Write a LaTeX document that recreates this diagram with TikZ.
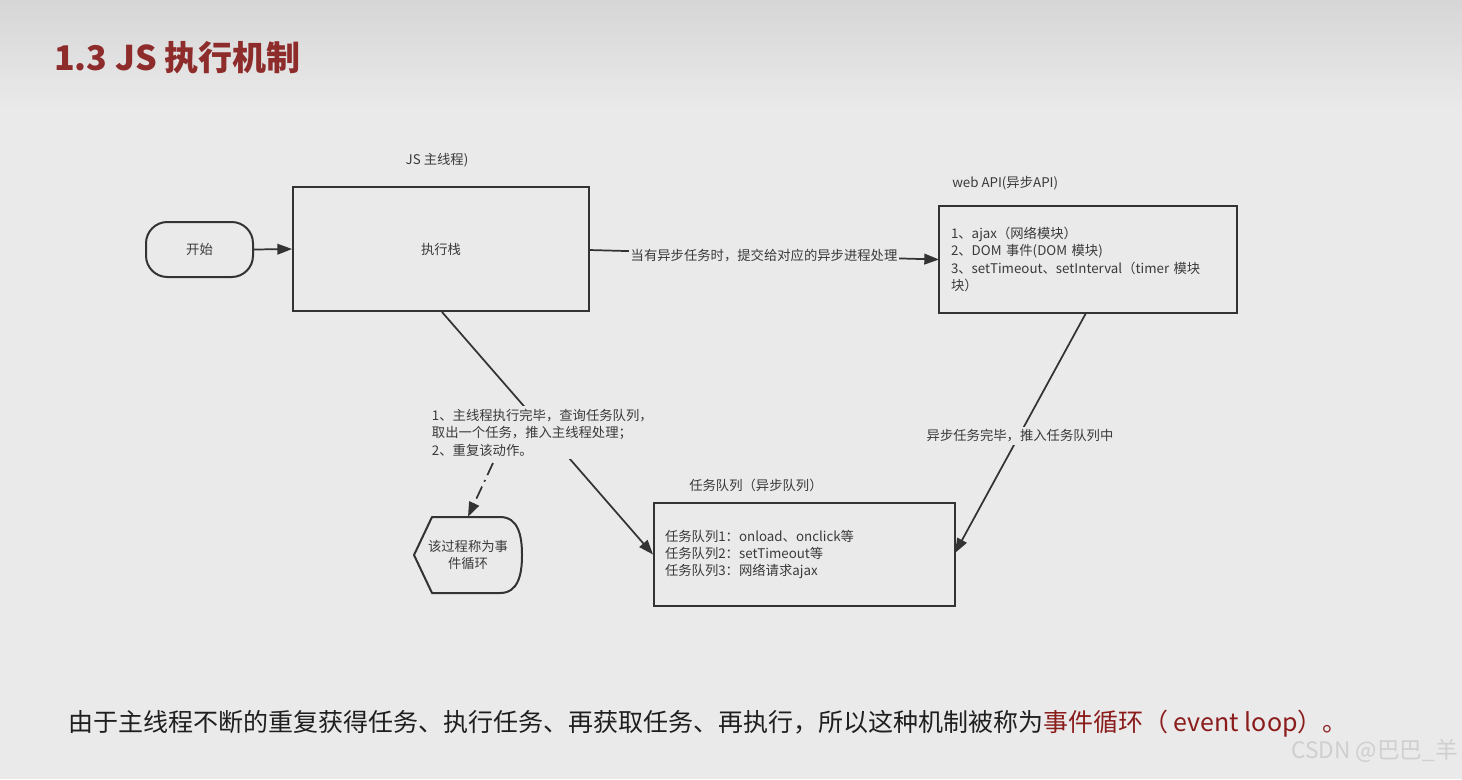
\documentclass[tikz,border=0pt]{standalone}
\usepackage{fontspec}
\setmainfont{Noto Sans CJK SC}
\usetikzlibrary{arrows.meta}
\definecolor{bgc}{HTML}{EAEAEA}
\definecolor{bgtop}{HTML}{D6D6D6}
\definecolor{linec}{HTML}{333333}
\definecolor{txtc}{HTML}{3A3A3A}
\definecolor{titlered}{HTML}{8E2B2B}
\definecolor{loopred}{HTML}{8B1C1C}
\definecolor{wmark}{HTML}{CFCFCF}
\tikzset{
  box/.style={draw=linec, line width=1.5pt, rectangle, inner sep=0pt},
  conn/.style={draw=linec, line width=1.3pt, -{Triangle[length=11pt,width=8pt]}},
  small/.style={text=txtc, font=\fontsize{10}{13.1}\selectfont},
  lbl/.style={small, fill=bgc, inner sep=1pt},
}
\begin{document}
\begin{tikzpicture}[x=0.75pt,y=-0.75pt]
\useasboundingbox (0,0) rectangle (1462,779);
\fill[bgc] (0,0) rectangle (1462,779);
\shade[top color=bgtop, bottom color=bgc] (0,0) rectangle (1462,110);

% title
\node[anchor=west, inner sep=0pt, text=titlered, font=\fontsize{25.5}{29}\selectfont\bfseries] (title) at (54,58) {1.3 JS 执行机制};

% nodes
\node[box, rounded corners=16pt, minimum width=80.25pt, minimum height=41.25pt, small] (start) at (199.5,249.5) {开始};
\node[box, minimum width=222pt, minimum height=93pt, small] (stack) at (441,249) {执行栈};
\node[small, inner sep=0pt] (stacktitle) at (437,160) {JS 主线程)};

\node[box, minimum width=223.5pt, minimum height=80.25pt, small, align=left, text width=205.5pt, inner xsep=9pt] (webapi) at (1088,259.5) {1、ajax（网络模块）\\2、DOM 事件(DOM 模块)\\3、setTimeout、setInterval（timer 模块\\块）};
\node[small, anchor=west, inner sep=0pt] (webtitle) at (952,183) {web API(异步API)};

\node[box, minimum width=225.75pt, minimum height=77.25pt, small, align=left, text width=209.25pt, inner xsep=8.25pt] (queue) at (804.5,554.5) {任务队列1：onload、onclick等\\任务队列2：setTimeout等\\任务队列3：网络请求ajax};
\node[small, anchor=west, inner sep=0pt] (queuetitle) at (689,485) {任务队列（异步队列）};

% event loop display shape
\node[small, align=center, minimum width=81pt, minimum height=57pt, inner sep=0pt] (loop) at (468,555) {该过程称为事\\件循环};
\draw[linec, line width=1.5pt, line join=round] (414,555) -- (432,517) -- (500,517) .. controls (518,517) and (522,535) .. (522,555) .. controls (522,575) and (518,593) .. (500,593) -- (432,593) -- cycle;

% connectors
\draw[conn] (start.east) -- (stack.west);
\draw[conn] (589,250) -- (939,259.5);
\node[lbl] (asyncl) at (764,256) {当有异步任务时，提交给对应的异步进程处理};

\draw[conn] (442,312) -- (queue.west);
\node[lbl, anchor=north west, align=left, inner sep=2pt] (mainl) at (429,406) {1、主线程执行完毕，查询任务队列，\\取出一个任务，推入主线程处理；\\2、重复该动作。};

\draw[conn] (1086,313) -- (955,553);
\node[lbl, inner sep=2pt] (donel) at (1020,436) {异步任务完毕，推入任务队列中};

\coordinate (ddstart) at (493,463);
\draw[draw=linec, line width=1.3pt, dash pattern=on 10pt off 4pt on 1.5pt off 4pt, -{Triangle[length=11pt,width=8pt]}] (ddstart) -- (loop.north);

% bottom text
\node[anchor=west, inner sep=0pt, text=black!88, font=\fontsize{18.75}{22}\selectfont] (bottom) at (68,724) {由于主线程不断的重复获得任务、执行任务、再获取任务、再执行，所以这种机制被称为{\color{loopred}事件循环（ event loop）。}};

\node[anchor=east, inner sep=0pt, text=wmark, font=\fontsize{17}{19}\selectfont] (wm) at (1458,751) {CSDN @巴巴\_羊};
\end{tikzpicture}
\end{document}
